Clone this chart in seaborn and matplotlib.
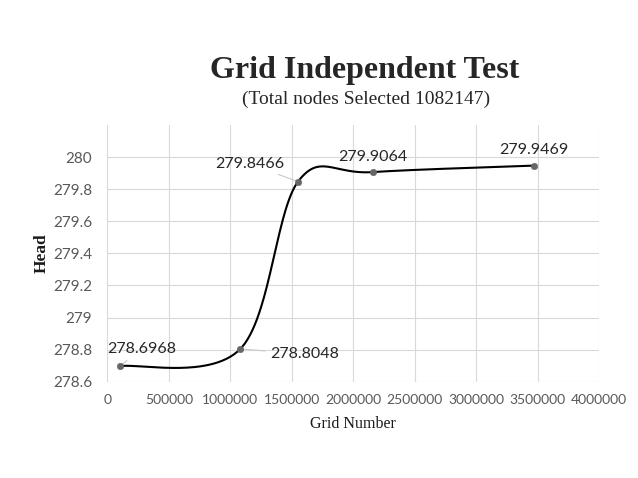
import numpy as np
import pandas as pd
import matplotlib
matplotlib.use("Agg")
from matplotlib import pyplot as plt
from matplotlib.ticker import FuncFormatter
import seaborn as sns

# values
grid_number = [100000, 1082147, 1550000, 2157000, 3470000]
head = [278.6968, 278.8048, 279.8466, 279.9064, 279.9469]
point_labels = ["278.6968", "278.8048", "279.8466", "279.9064", "279.9469"]
x_ticks = [0, 500000, 1000000, 1500000, 2000000, 2500000, 3000000, 3500000, 4000000]
y_ticks = [278.6, 278.8, 279.0, 279.2, 279.4, 279.6, 279.8, 280.0]

XMIN, XMAX = 0, 4000000
YMIN, YMAX = 278.6, 280.2


def excel_smooth(xs, ys, n=60):
    """Excel-like smoothed line: cubic Bezier through the points, control
    points from neighbours (Catmull-Rom), computed in screen-like space."""
    sx = 493 / (XMAX - XMIN)
    sy = 257 / (YMAX - YMIN)
    p = np.column_stack([(np.array(xs) - XMIN) * sx, (np.array(ys) - YMIN) * sy])
    pad = np.vstack([p[0], p, p[-1]])
    out = []
    t = np.linspace(0, 1, n)[:, None]
    for i in range(len(p) - 1):
        p0, p1, p2, p3 = pad[i], pad[i + 1], pad[i + 2], pad[i + 3]
        c1 = p1 + (p2 - p0) / 6
        c2 = p2 - (p3 - p1) / 6
        seg = ((1 - t) ** 3) * p1 + 3 * ((1 - t) ** 2) * t * c1 + 3 * (1 - t) * t ** 2 * c2 + t ** 3 * p2
        out.append(seg if i == 0 else seg[1:])
    out = np.vstack(out)
    return out[:, 0] / sx + XMIN, out[:, 1] / sy + YMIN


sns.set_style("white")
plt.rcParams['font.family'] = ['Lato', 'DejaVu Sans']

fig = plt.figure(figsize=(6.38, 4.78), dpi=100)
ax = fig.add_axes([0.1682, 0.2015, 0.7712, 0.537])

cx, cy = excel_smooth(grid_number, head)
curve = pd.DataFrame({"x": cx, "y": cy})
sns.lineplot(data=curve, x="x", y="y", sort=False, color="black", linewidth=1.5, ax=ax)
sns.scatterplot(x=grid_number, y=head, color="#666666", s=22, edgecolor="#666666", zorder=5, ax=ax)

ax.set_xlim(XMIN, XMAX)
ax.set_ylim(YMIN, YMAX)
ax.set_xticks(x_ticks)
ax.set_yticks(y_ticks)
ax.xaxis.set_major_formatter(FuncFormatter(lambda v, _: f"{int(v)}"))
ax.yaxis.set_major_formatter(FuncFormatter(lambda v, _: f"{v:g}"))
ax.grid(True, color="#d9d9d9", linewidth=0.8)
ax.set_axisbelow(True)
for s in ax.spines.values():
    s.set_visible(False)
ax.tick_params(axis="both", length=0, labelcolor="#595959")
ax.tick_params(axis="x", pad=9, labelsize=10)
ax.tick_params(axis="y", pad=11, labelsize=11)

# data labels
offsets = [(16, 12), (46, -4), (-35, 13), (0, 11), (0, 11)]
leaders = [True, True, True, False, False]
for x, y, lab, off, ld in zip(grid_number, head, point_labels, offsets, leaders):
    ax.annotate(lab, xy=(x, y), xytext=off, textcoords="offset points",
                ha="center", va="center", fontsize=11.5, color="#262626",
                arrowprops=dict(arrowstyle="-", color="#c8c8c8", lw=0.8,
                                shrinkA=1, shrinkB=2) if ld else None)

ax.set_xlabel("Grid Number", family="Liberation Serif", fontsize=11.5, color="#1a1a1a")
ax.set_ylabel("Head", family="Liberation Serif", fontsize=12.5, fontweight="bold", color="#1a1a1a")
ax.xaxis.set_label_coords(0.5, -0.135)
ax.yaxis.set_label_coords(-0.118, 0.5)

fig.text(0.572, 0.853, "Grid Independent Test", ha="center", va="center",
         family="Liberation Serif", fontsize=23, fontweight="bold", color="#262626")
fig.text(0.574, 0.792, "(Total nodes Selected 1082147)", ha="center", va="center",
         family="Liberation Serif", fontsize=14, color="#262626")

fig.savefig("out.png", dpi=100)
